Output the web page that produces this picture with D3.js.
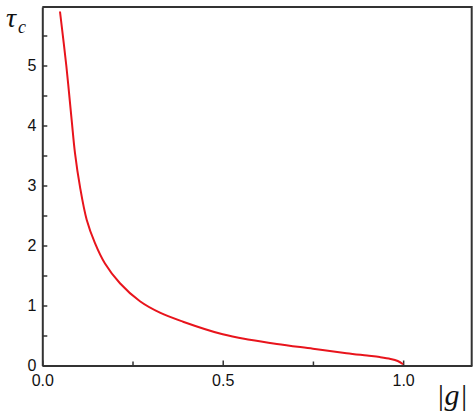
<!DOCTYPE html>
<html><head><meta charset="utf-8">
<script src="https://cdn.jsdelivr.net/npm/d3@7"></script>
<style>
body{margin:0;background:#fff}svg{display:block}
.tk{font-family:'Liberation Sans',Arial,sans-serif;font-size:16px;fill:#111}
.lab{font-family:'Liberation Serif','Times New Roman',serif;font-style:italic;fill:#111}
</style>
</head><body>
<svg id="c" width="474" height="417"></svg>
<script>
const gVals   = [0.049, 0.0665, 0.0814, 0.0906, 0.1044, 0.123, 0.146, 0.1737, 0.2152, 0.2706, 0.326, 0.39, 0.5, 0.575, 0.65, 0.75, 0.843, 0.9, 0.935, 0.965, 0.985, 1.0];
const tauVals = [5.9, 5.0, 4.09, 3.54, 2.98, 2.43, 2.04, 1.70, 1.37, 1.07, 0.88, 0.73, 0.52, 0.43, 0.36, 0.28, 0.205, 0.165, 0.14, 0.11, 0.075, 0.02];
const xTickVals = [0, 0.5, 1.0];
const xMinorVals = [0.25, 0.75];
const yTickVals = [0, 1, 2, 3, 4, 5];
const yMinorVals = [0.5, 1.5, 2.5, 3.5, 4.5, 5.5];

const svg = d3.select("#c");
const L = 42.3, R = 471.7, T = 7, B = 365.5;
const x = d3.scaleLinear().domain([0, 1.19]).range([L, R]);
const y = d3.scaleLinear().domain([0, 5.975]).range([B, T]);
const axCol = "#333";

svg.append("line").attr("x1", L).attr("x2", R).attr("y1", T).attr("y2", T).attr("stroke", axCol).attr("stroke-width", 2);
svg.append("line").attr("x1", R).attr("x2", R).attr("y1", T-1).attr("y2", B+1).attr("stroke", axCol).attr("stroke-width", 2);

const xAx = svg.append("g").attr("transform", `translate(0,${B})`)
  .call(d3.axisBottom(x).tickValues(xTickVals).tickFormat(d3.format(".1f")).tickSizeInner(-5).tickSizeOuter(0).tickPadding(9));
svg.append("g").attr("transform", `translate(0,${B})`)
  .call(d3.axisBottom(x).tickValues(xMinorVals).tickFormat("").tickSizeInner(-4).tickSizeOuter(0))
  .select(".domain").remove();
const yAx = svg.append("g").attr("transform", `translate(${L},0)`)
  .call(d3.axisLeft(y).tickValues(yTickVals).tickFormat(d3.format("d")).tickSizeInner(-5).tickSizeOuter(0).tickPadding(6));
svg.append("g").attr("transform", `translate(${L},0)`)
  .call(d3.axisLeft(y).tickValues(yMinorVals).tickFormat("").tickSizeInner(-5).tickSizeOuter(0))
  .select(".domain").remove();

svg.selectAll(".domain").attr("stroke", axCol).attr("stroke-width", 2);
svg.selectAll(".tick line").attr("stroke", axCol).attr("stroke-width", 1.5);
svg.selectAll(".tick text").attr("class", "tk").attr("font-family", null).attr("font-size", null).attr("fill", null);
svg.selectAll("g").attr("font-family", null).attr("font-size", null);

const pts = gVals.map((g, i) => [g, tauVals[i]]);
svg.append("path").datum(pts)
  .attr("fill", "none").attr("stroke", "#e8141c").attr("stroke-width", 2)
  .attr("d", d3.line().x(d => x(d[0])).y(d => y(d[1])).curve(d3.curveCatmullRom.alpha(0.5)));

const yl = svg.append("text").attr("class", "lab").attr("x", 6).attr("y", 27).attr("font-size", 28);
yl.append("tspan").text("τ");
yl.append("tspan").attr("font-size", 18).attr("dy", 6).attr("dx", 2).text("c");

svg.append("text").attr("class", "lab").attr("x", 452).attr("y", 405).attr("text-anchor", "middle")
  .attr("font-size", 30).text("|g|");
</script>
</body></html>
